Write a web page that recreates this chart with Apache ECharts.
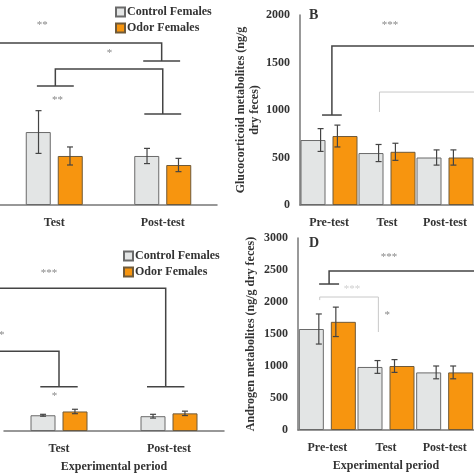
<!DOCTYPE html><html><head><meta charset="utf-8"><script src="https://cdn.jsdelivr.net/npm/echarts@6/dist/echarts.min.js"></script>
<style>html,body{margin:0;padding:0;background:#fff}#c{width:474px;height:474px}</style></head><body><div id="c"></div><script>
const periods=['Pre-test','Test','Post-test'];
const periodsAC=['Test','Post-test'];
const seriesNames=['Control Females','Odor Females'];
// panel A (Test, Post-test)
const aCtrl=[768,516], aCtrlErr=[225,80];
const aOdor=[516,421], aOdorErr=[95,70];
// panel B
const bCtrl=[684,547,500], bCtrlErr=[120,90,80];
const bOdor=[726,560,500], bOdorErr=[115,90,80];
// panel C (Test, Post-test)
const cCtrl=[250,235], cCtrlErr=[15,30];
const cOdor=[310,280], cOdorErr=[35,35];
// panel D
const dCtrl=[1578,985,900], dCtrlErr=[235,100,100];
const dOdor=[1690,1000,900], dOdorErr=[230,100,100];
// brackets: [xl, xr, top, yl, yr, feetL, feetR, grey]
const aBr=[[-1,0.99,1705,1516,1516,0,1,0],[0.01,1.0,1432,1253,958,1,1,0]];
const aStars=[[-0.11,1895,'**'],[0.51,1600,'*'],[0.03,1105,'**']];
const bBr=[[0.05,3,1674,947,947,1,0,0],[0.87,3,1189,979,979,0,0,1]];
const bStars=[[1.05,1895,'***']];
const cBr=[[-1,0.97,2266,703,703,0,1,0],[-1.3,0.0,1266,703,703,0,1,0]];
const cStars=[[-0.09,2500,'***'],[-0.52,1516,'*'],[-0.04,547,'*']];
const dBr=[[0.03,3,2484,2281,2281,1,0,0],[-0.13,0.87,2078,2030,1531,0,0,1]];
const dStars=[[1.05,2700,'***',0],[0.42,2200,'***',1],[1.02,1800,'*',0]];

const font='Liberation Serif';
const ctrlStyle={color:'#e3e5e5',borderColor:'#6a6a6a',borderWidth:1};
const odorStyle={color:'#f7950f',borderColor:'#6f5a3a',borderWidth:1};
const chart=echarts.init(document.getElementById('c'));
const grids=[
 {left:0,width:217,top:15,height:190},
 {left:300,width:339,top:15,height:190},
 {left:4,width:220,top:242,height:192},
 {left:298,width:345,top:238,height:192}];
function xAx(i,data,name){return {type:'category',gridIndex:i,data:data,axisTick:{show:false},
 axisLine:{lineStyle:{color:'#777',width:1.5}},
 axisLabel:{fontFamily:font,fontWeight:'bold',fontSize:12,color:'#333',margin:12},
 name:name||'',nameLocation:'middle',nameGap:30,nameTextStyle:{fontFamily:font,fontWeight:'bold',fontSize:12,color:'#333'}};}
function yAx(i,max,show,name,gap){return {type:'value',gridIndex:i,min:0,max:max,interval:500,show:true,
 splitLine:{show:false},axisTick:{show:false},axisLine:{show:show,lineStyle:{color:'#777',width:1.5}},
 axisLabel:{show:show,formatter:v=>String(v),fontFamily:font,fontWeight:'bold',fontSize:12,color:'#333',margin:10},
 name:name||'',nameLocation:'middle',nameGap:gap||40,nameTextStyle:{fontFamily:font,fontWeight:'bold',fontSize:12,color:'#333',lineHeight:14}};}
function err(i,vals,errs,side){return {type:'custom',xAxisIndex:i,yAxisIndex:i,silent:true,z:5,
 data:vals.map((v,k)=>[k,v,errs[k]]),
 renderItem:(p,api)=>{const c=api.coord([api.value(0),api.value(1)]);const bw=api.size([1,0])[0];
  const x=c[0]+side*bw*0.145;const t=api.coord([api.value(0),api.value(1)+api.value(2)])[1];
  const b=api.coord([api.value(0),api.value(1)-api.value(2)])[1];const s={stroke:'#444',lineWidth:1.2};
  return {type:'group',children:[{type:'line',shape:{x1:x,y1:t,x2:x,y2:b},style:s},
   {type:'line',shape:{x1:x-3,y1:t,x2:x+3,y2:t},style:s},{type:'line',shape:{x1:x-3,y1:b,x2:x+3,y2:b},style:s}]};}};}
function brackets(i,br,stars){return {type:'custom',xAxisIndex:i,yAxisIndex:i,silent:true,z:6,
 data:[0],renderItem:(p,api)=>{const x0=api.coord([0,0])[0];const bw=api.size([1,0])[0];
  const X=q=>x0+q*bw;const Y=v=>api.coord([0,v])[1];const ch=[];const fw=0.17*bw;
  br.forEach(b=>{const s={stroke:b[7]?'#c8c8c8':'#444',lineWidth:b[7]?1:1.5,fill:null};
   ch.push({type:'polyline',shape:{points:[[X(b[0]),Y(b[3])],[X(b[0]),Y(b[2])],[X(b[1]),Y(b[2])],[X(b[1]),Y(b[4])]]},style:s});
   if(b[5])ch.push({type:'line',shape:{x1:X(b[0])-fw,y1:Y(b[3]),x2:X(b[0])+fw,y2:Y(b[3])},style:s});
   if(b[6])ch.push({type:'line',shape:{x1:X(b[1])-fw,y1:Y(b[4]),x2:X(b[1])+fw,y2:Y(b[4])},style:s});});
  stars.forEach(s=>ch.push({type:'text',x:X(s[0]),y:Y(s[1]),style:{text:s[2],fill:s[3]?'#d0d0d0':'#888',font:'11px '+font,align:'center',verticalAlign:'middle'}}));
  return {type:'group',children:ch};}};}
function bars(i,c,o,w){return [
 {type:'bar',name:seriesNames[0],xAxisIndex:i,yAxisIndex:i,data:c,barWidth:w,barGap:'28%',itemStyle:ctrlStyle},
 {type:'bar',name:seriesNames[1],xAxisIndex:i,yAxisIndex:i,data:o,barWidth:w,itemStyle:odorStyle}];}
const legendBase={orient:'vertical',itemWidth:9,itemHeight:9,itemGap:4,icon:'rect',
 textStyle:{fontFamily:font,fontWeight:'bold',fontSize:12,color:'#333',padding:[0,0,0,-3]},data:seriesNames,selectedMode:false};
chart.setOption({animation:false,grid:grids,
 legend:[Object.assign({left:110,top:1},legendBase),Object.assign({left:118,top:245},legendBase)],
 xAxis:[xAx(0,periodsAC),xAx(1,periods),xAx(2,periodsAC,'Experimental period'),xAx(3,periods,'Experimental period')],
 yAxis:[yAx(0,2000,false),yAx(1,2000,true,'Glucocorticoid metabolites (ng/g\ndry feces)',38),yAx(2,3000,false),yAx(3,3000,true,'Androgen metabolites (ng/g dry feces)',40)],
 graphic:[{type:'text',left:309,top:8,style:{text:'B',font:'bold 14px '+font,fill:'#333'}},
  {type:'text',left:309,top:236,style:{text:'D',font:'bold 14px '+font,fill:'#333'}}],
 series:[...bars(0,aCtrl,aOdor,25),...bars(1,bCtrl,bOdor,25),...bars(2,cCtrl,cOdor,25),...bars(3,dCtrl,dOdor,25),
  err(0,aCtrl,aCtrlErr,-1),err(0,aOdor,aOdorErr,1),err(1,bCtrl,bCtrlErr,-1),err(1,bOdor,bOdorErr,1),
  err(2,cCtrl,cCtrlErr,-1),err(2,cOdor,cOdorErr,1),err(3,dCtrl,dCtrlErr,-1),err(3,dOdor,dOdorErr,1),
  brackets(0,aBr,aStars),brackets(1,bBr,bStars),brackets(2,cBr,cStars),brackets(3,dBr,dStars)]});
</script></body></html>
